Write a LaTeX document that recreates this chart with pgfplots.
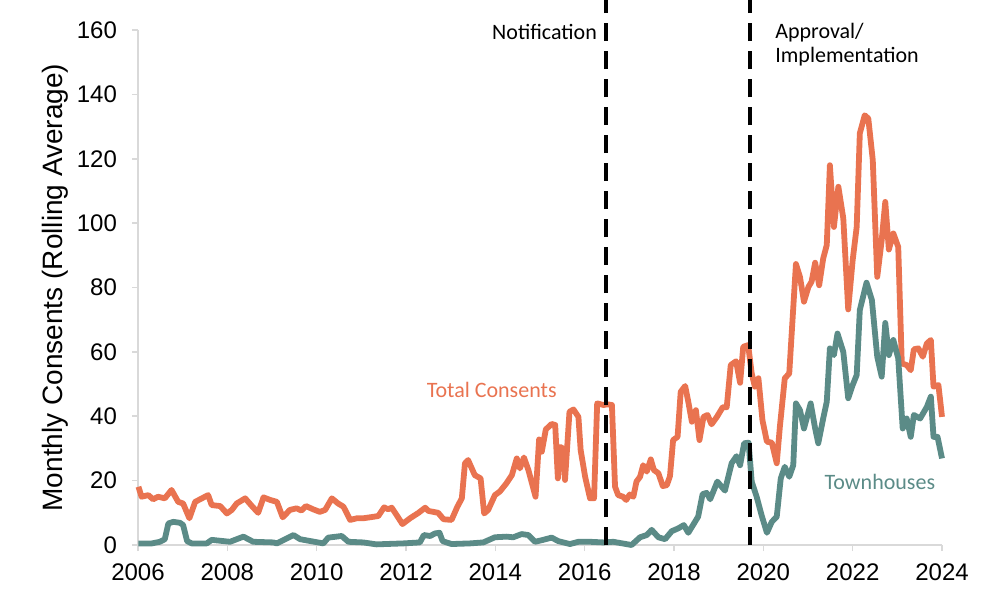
\documentclass[border=0pt]{standalone}
\usepackage{pgfplots}
\usepackage{pgfplotstable}
\pgfplotsset{compat=1.18}
\usepackage{fontspec}
\setmainfont{Liberation Sans}
\newfontfamily\notefont{Carlito}

\definecolor{totalc}{HTML}{E97350}
\definecolor{townc}{HTML}{5B8B87}
\definecolor{axisgray}{HTML}{D9D9D9}

% Monthly consents, rolling average
\pgfplotstableread{
x y
2006.01 18.1
2006.08 15.0
2006.23 15.5
2006.34 14.2
2006.45 15.0
2006.60 14.5
2006.75 17.1
2006.90 13.4
2007.01 12.9
2007.15 8.3
2007.28 13.4
2007.43 14.5
2007.57 15.5
2007.65 12.4
2007.84 12.1
2007.99 9.8
2008.10 10.9
2008.21 12.9
2008.40 14.5
2008.55 12.1
2008.69 10.0
2008.81 14.8
2008.96 14.0
2009.11 13.4
2009.24 8.6
2009.40 10.9
2009.55 11.4
2009.66 10.7
2009.76 12.1
2009.92 11.1
2010.07 10.3
2010.19 10.9
2010.34 14.5
2010.48 12.9
2010.60 11.9
2010.75 7.8
2010.90 8.3
2011.04 8.3
2011.19 8.6
2011.38 9.0
2011.51 11.7
2011.60 11.1
2011.68 11.6
2011.79 9.3
2011.92 6.5
2012.09 8.3
2012.28 10.0
2012.43 11.6
2012.50 10.6
2012.72 10.0
2012.84 8.0
2013.02 7.8
2013.15 11.9
2013.25 14.5
2013.32 25.4
2013.39 26.4
2013.54 21.7
2013.67 20.7
2013.75 9.8
2013.84 10.9
2013.99 15.5
2014.10 16.6
2014.25 19.2
2014.37 21.7
2014.48 26.9
2014.55 23.8
2014.64 27.2
2014.74 23.3
2014.90 15.0
2014.98 32.8
2015.04 29.0
2015.13 35.9
2015.26 37.6
2015.34 37.3
2015.40 20.7
2015.45 30.5
2015.51 30.0
2015.56 20.2
2015.66 41.4
2015.75 42.1
2015.86 39.8
2015.91 29.5
2016.01 21.2
2016.12 14.5
2016.21 14.5
2016.28 44.0
2016.42 43.5
2016.51 43.7
2016.61 43.5
2016.68 18.1
2016.75 15.5
2016.86 15.0
2016.93 14.0
2017.01 15.7
2017.09 15.0
2017.16 19.7
2017.24 21.2
2017.31 24.8
2017.39 22.8
2017.48 26.6
2017.55 23.3
2017.65 22.3
2017.75 18.3
2017.84 18.6
2017.91 21.4
2017.98 32.6
2018.08 33.6
2018.15 47.6
2018.25 49.4
2018.32 44.5
2018.40 38.3
2018.49 41.9
2018.57 32.6
2018.66 39.8
2018.75 40.4
2018.84 37.5
2018.96 39.8
2019.09 42.8
2019.18 42.8
2019.27 55.9
2019.39 57.1
2019.48 50.4
2019.55 61.6
2019.66 62.1
2019.74 53.3
2019.81 49.2
2019.89 51.8
2019.98 38.8
2020.08 32.1
2020.19 31.8
2020.30 25.4
2020.37 36.7
2020.48 51.8
2020.58 53.3
2020.73 87.3
2020.82 83.3
2020.91 75.6
2021.01 80.2
2021.08 81.8
2021.16 87.7
2021.25 80.7
2021.34 89.0
2021.42 93.2
2021.49 118.0
2021.58 98.8
2021.68 111.3
2021.79 101.5
2021.90 73.2
2022.00 88.5
2022.09 98.8
2022.16 127.9
2022.27 133.5
2022.35 132.5
2022.45 119.6
2022.55 83.3
2022.65 94.7
2022.73 106.6
2022.81 91.8
2022.91 96.8
2023.02 92.6
2023.10 56.4
2023.21 55.9
2023.30 54.3
2023.37 60.8
2023.47 61.1
2023.57 58.5
2023.66 62.6
2023.75 63.7
2023.81 49.2
2023.92 49.7
2024.00 39.8
}\totaltable

\pgfplotstableread{
x y
2006.01 0.5
2006.31 0.5
2006.49 1.0
2006.60 1.8
2006.68 6.7
2006.79 7.2
2006.94 6.9
2007.01 6.2
2007.10 1.2
2007.20 0.5
2007.54 0.5
2007.65 1.6
2008.06 1.0
2008.36 2.6
2008.58 1.0
2009.03 0.8
2009.11 0.5
2009.48 3.1
2009.63 1.8
2010.15 0.5
2010.26 2.3
2010.56 2.8
2010.71 1.0
2011.04 0.8
2011.34 0.2
2011.94 0.5
2012.31 0.8
2012.40 3.1
2012.54 2.8
2012.65 3.6
2012.75 3.8
2012.82 1.2
2013.02 0.3
2013.43 0.5
2013.73 0.8
2013.99 2.4
2014.25 2.6
2014.40 2.4
2014.59 3.4
2014.74 3.1
2014.89 1.0
2015.07 1.6
2015.26 2.3
2015.41 1.2
2015.67 0.3
2015.86 1.0
2016.12 1.0
2016.42 0.8
2016.64 1.0
2017.05 0.0
2017.24 2.4
2017.39 3.1
2017.50 4.7
2017.65 2.4
2017.80 1.8
2017.95 4.3
2018.10 5.2
2018.22 6.2
2018.32 3.8
2018.47 7.2
2018.54 8.8
2018.64 15.8
2018.73 16.2
2018.81 14.2
2018.97 19.7
2019.14 16.9
2019.29 25.4
2019.40 27.6
2019.48 24.8
2019.57 31.6
2019.67 31.8
2019.74 19.7
2019.85 15.0
2019.96 9.3
2020.08 3.8
2020.19 7.2
2020.30 8.8
2020.39 20.7
2020.48 24.3
2020.58 21.2
2020.67 24.8
2020.73 44.0
2020.82 41.9
2020.91 36.2
2021.06 44.0
2021.16 36.2
2021.23 31.6
2021.34 39.3
2021.42 44.5
2021.49 61.1
2021.58 59.0
2021.66 65.7
2021.79 60.0
2021.90 45.6
2022.00 49.7
2022.09 52.8
2022.16 73.0
2022.31 81.5
2022.43 76.1
2022.55 58.5
2022.65 52.3
2022.73 69.0
2022.81 59.0
2022.91 63.7
2023.02 58.0
2023.12 36.2
2023.21 39.3
2023.30 33.6
2023.37 40.4
2023.51 39.3
2023.66 42.9
2023.75 46.1
2023.81 33.6
2023.90 33.6
2024.00 26.9
}\townhousetable

\begin{document}
\begin{tikzpicture}
\useasboundingbox (-69pt,-31pt) rectangle (431pt,272.5pt);
\begin{axis}[
  at={(0,0)}, anchor=south west,
  scale only axis,
  width=402pt, height=257.5pt,
  xmin=2006, xmax=2024,
  ymin=0, ymax=160,
  xtick={2006,2008,...,2024},
  ytick={0,20,...,160},
  axis lines*=left,
  axis line style={axisgray, line width=0.8pt},
  tick style={axisgray, line width=0.8pt},
  tick align=outside,
  major tick length=3pt,
  /pgf/number format/1000 sep={},
  /pgf/number format/assume math mode=true,
  ticklabel style={font=\fontsize{12}{14}\selectfont, black},
  xticklabel style={yshift=-3pt},
  yticklabel style={xshift=-4pt},
  ylabel={Monthly Consents (Rolling Average)},
  ylabel style={font=\fontsize{14}{16}\selectfont, at={(axis description cs:-0.103,0.5)}, anchor=center},
  clip=false,
  line join=round,
]
\addplot[totalc, line width=2.9pt] table[x=x, y=y] {\totaltable};
\addplot[townc, line width=2.9pt] table[x=x, y=y] {\townhousetable};

% policy milestones
\addplot[black, line width=2pt, dash pattern=on 9pt off 5pt] coordinates {(2016.48,0) (2016.48,169.3)};
\addplot[black, line width=2pt, dash pattern=on 9pt off 5pt] coordinates {(2019.70,0) (2019.70,169.3)};

\node[font=\notefont\fontsize{11}{13}\selectfont, anchor=east] at (axis cs:2016.43,159.5) {Notification};
\node[font=\notefont\fontsize{11}{12}\selectfont, anchor=north west, align=left, inner sep=0pt] at (axis cs:2020.26,162.3) {Approval/\\Implementation};
\node[font=\notefont\fontsize{11}{13}\selectfont, text=totalc] at (axis cs:2013.92,48.1) {Total Consents};
\node[font=\notefont\fontsize{11}{13}\selectfont, text=townc] at (axis cs:2022.61,19.6) {Townhouses};
\end{axis}
\end{tikzpicture}
\end{document}
